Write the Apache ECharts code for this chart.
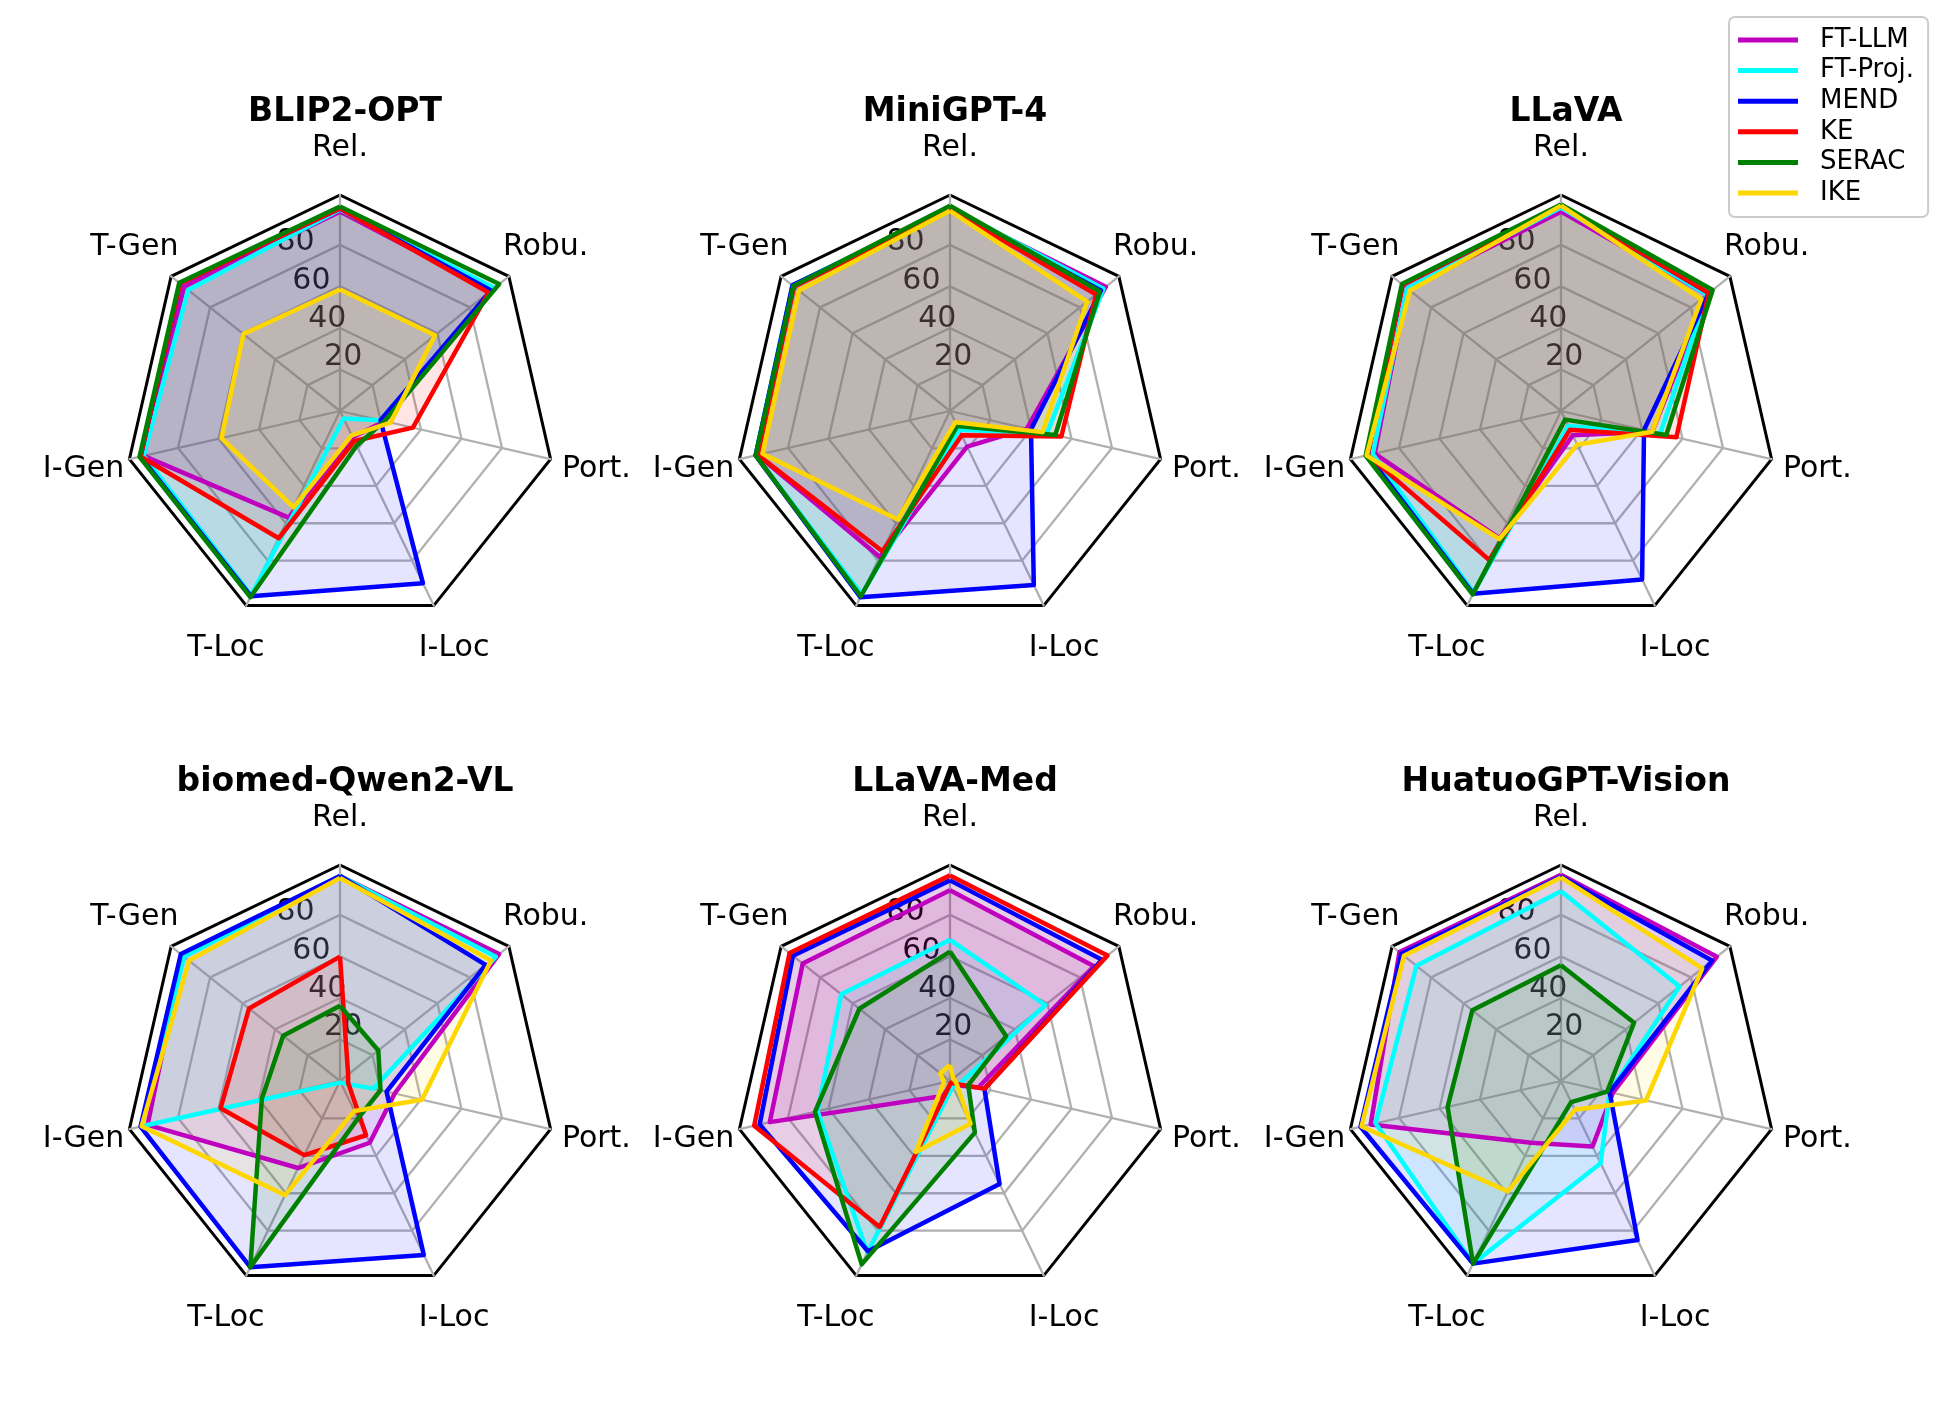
<!DOCTYPE html>
<html>
<head>
<meta charset="utf-8">
<script src="https://cdn.jsdelivr.net/npm/echarts@6/dist/echarts.min.js"></script>
<style>
html,body{margin:0;padding:0;background:#ffffff;}
#chart{width:1952px;height:1404px;}
</style>
</head>
<body>
<div id="chart"></div>
<script>
// ---------- data ----------
const models = ['BLIP2-OPT', 'MiniGPT-4', 'LLaVA', 'biomed-Qwen2-VL', 'LLaVA-Med', 'HuatuoGPT-Vision'];
const metrics = ['Rel.', 'Robu.', 'Port.', 'I-Loc', 'T-Loc', 'I-Gen', 'T-Gen'];
const methods = ['FT-LLM', 'FT-Proj.', 'MEND', 'KE', 'SERAC', 'IKE'];
const tickLabels = [20, 40, 60, 80];

// rows follow `methods`, columns follow `metrics`
const blip2Opt = [
  [96, 93, 22, 14, 57, 97, 96],
  [97, 95, 20, 4, 98.5, 97, 93.5],
  [97.5, 93, 20, 92, 99, 98.5, 98.5],
  [97.5, 91.5, 36, 16, 68, 98.5, 98.5],
  [98.5, 98, 22, 18.5, 99.5, 99, 99],
  [58.5, 58.5, 25, 13, 51.5, 58.5, 59.5]
];
const miniGpt4 = [
  [97, 96, 38, 19, 78, 95, 97],
  [98, 94.5, 48, 10, 98, 96, 97],
  [97, 93, 40, 93, 99.5, 96, 97],
  [97, 90, 55, 13, 75, 95, 96],
  [98.8, 92.3, 52, 8, 99, 96, 96.5],
  [96.4, 84.5, 45.7, 6, 58, 92.6, 93]
];
const llava = [
  [96, 90, 45, 13, 68, 92, 94.7],
  [98, 90, 49, 8, 97, 93, 94.7],
  [99, 91, 41, 90, 97.6, 95.5, 97.5],
  [99, 91, 57, 10, 79.6, 95.5, 97.5],
  [99.4, 93.4, 52, 4.6, 98, 96.5, 98],
  [98.9, 86.4, 45, 18, 68.4, 96, 93]
];
const biomedQwen2VL = [
  [98.7, 98, 27, 33, 46.5, 95, 97],
  [98.7, 96, 16.5, 1, 1, 98, 96],
  [98.7, 89.7, 23, 93, 99.5, 98.5, 98],
  [59.9, 5, 4, 29, 39.6, 59, 56],
  [36.2, 23.6, 20, 20, 99.5, 38.6, 35],
  [97.7, 93, 40.5, 16, 61, 98, 93]
];
const llavaMed = [
  [91.8, 88.7, 14, 2, 8, 89, 90.7],
  [68, 58.7, 5, 3, 91.6, 65.4, 67],
  [96.6, 93.6, 17, 55, 91, 94, 96.7],
  [99, 97, 17, 1, 78, 96.7, 98.8],
  [62.3, 34.6, 9, 27.6, 98, 66.7, 55.8],
  [7.7, 2, 3, 22.8, 38, 3, 6]
];
const huatuoGptVision = [
  [99.3, 96, 25.6, 35, 33, 94, 99.5],
  [91.4, 73, 24, 44, 97.6, 91.6, 89],
  [98.5, 93, 24, 85, 97.6, 99, 98.3],
  null,
  [55.7, 45, 22.8, 11.3, 97.6, 56, 54.6],
  [98, 87, 42, 15.4, 59, 98.5, 96.7]
];
const modelData = [blip2Opt, miniGpt4, llava, biomedQwen2VL, llavaMed, huatuoGptVision];

// ---------- style / layout ----------
const colors = ['#bf00bf', '#00ffff', '#0000ff', '#ff0000', '#008000', '#ffd700'];
const centers = [[340, 411], [950, 411], [1561, 411], [340, 1081], [950, 1081], [1561, 1081]];
const R = 216;
const RMAX = 104;
const FONT = 'DejaVu Sans';
// matplotlib order is clockwise from top; ECharts radar runs counter-clockwise
const ecOrder = [0, 6, 5, 4, 3, 2, 1];

const radar = [], polar = [], angleAxis = [], radiusAxis = [], series = [], title = [];

models.forEach((m, i) => {
  const [cx, cy] = centers[i];
  title.push({
    text: m, left: cx, top: cy - 320, textAlign: 'center',
    textStyle: {fontSize: 33, fontWeight: 'bold', fontFamily: FONT, color: '#000'}
  });
  // inner grey rings 20..80
  radar.push({
    center: [cx, cy], radius: R * 80 / RMAX, startAngle: 90, splitNumber: 4, shape: 'polygon',
    indicator: ecOrder.map(k => ({name: metrics[k], min: 0, max: 80})),
    axisName: {show: false}, axisLine: {show: false}, axisTick: {show: false}, axisLabel: {show: false},
    splitArea: {show: false},
    splitLine: {lineStyle: {color: '#b0b0b0', width: 2.3}}
  });
  // outer black frame + spokes + names
  radar.push({
    center: [cx, cy], radius: R, startAngle: 90, splitNumber: 1, shape: 'polygon',
    indicator: ecOrder.map(k => ({name: metrics[k], min: 0, max: RMAX})),
    axisNameGap: 47,
    axisName: {color: '#000', fontSize: 30, fontFamily: FONT, align: 'center', verticalAlign: 'middle'},
    axisLine: {lineStyle: {color: '#b0b0b0', width: 2.3}},
    axisTick: {show: false}, axisLabel: {show: false},
    splitArea: {show: false},
    splitLine: {lineStyle: {color: '#000', width: 3}}
  });
  polar.push({center: [cx, cy], radius: R});
  angleAxis.push({polarIndex: i, startAngle: 112.5, min: 0, max: 360, show: false});
  radiusAxis.push({
    polarIndex: i, min: 0, max: RMAX, interval: 20, z: 1,
    axisLine: {show: false}, axisTick: {show: false}, splitLine: {show: false},
    axisLabel: {
      margin: 0, align: 'left', verticalAlign: 'bottom', fontSize: 30, color: '#000', fontFamily: FONT,
      formatter: v => tickLabels.includes(v) ? String(v) : ''
    }
  });
  const rows = modelData[i];
  // translucent fills (below)
  series.push({
    type: 'radar', radarIndex: 2 * i + 1, symbol: 'none', z: 3, silent: true,
    data: methods.map((name, j) => rows[j] ? {
      name,
      value: ecOrder.map(k => rows[j][k]),
      lineStyle: {color: colors[j], width: 0, opacity: 0},
      itemStyle: {color: colors[j]},
      areaStyle: {color: colors[j], opacity: 0.1}
    } : null).filter(Boolean)
  });
  // outlines (on top)
  series.push({
    type: 'radar', radarIndex: 2 * i + 1, symbol: 'none', z: 4,
    data: methods.map((name, j) => rows[j] ? {
      name,
      value: ecOrder.map(k => rows[j][k]),
      lineStyle: {color: colors[j], width: 4.5},
      itemStyle: {color: colors[j]}
    } : null).filter(Boolean)
  });
});

const option = {
  backgroundColor: '#ffffff',
  animation: false,
  title,
  legend: {
    data: methods, orient: 'vertical', left: 1729, top: 17, selectedMode: false,
    icon: 'rect', itemWidth: 60, itemHeight: 5, itemGap: 2.6,
    padding: [9, 14, 10, 9],
    borderColor: '#cccccc', borderWidth: 2, borderRadius: 6, backgroundColor: '#ffffff',
    itemStyle: {borderWidth: 0},
    textStyle: {fontSize: 26, fontFamily: FONT, color: '#000', lineHeight: 28, padding: [0, 0, 0, 17]}
  },
  radar, polar, angleAxis, radiusAxis, series
};

const chart = echarts.init(document.getElementById('chart'), null, {renderer: 'canvas'});
chart.setOption(option);
</script>
</body>
</html>
